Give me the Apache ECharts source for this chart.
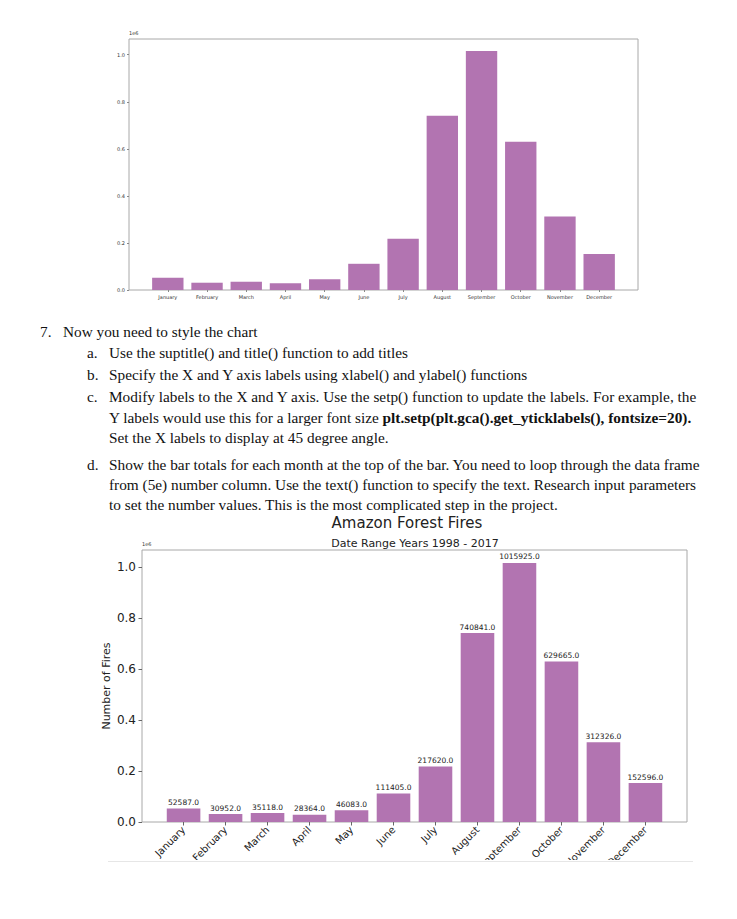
<!DOCTYPE html>
<html>
<head>
<meta charset="utf-8">
<script src="https://cdn.jsdelivr.net/npm/echarts@6/dist/echarts.min.js"></script>
<style>
  html, body { margin:0; padding:0; background:#fff; }
  #page { position:relative; width:737px; height:919px; background:#fff; overflow:hidden; }
  #chart { position:absolute; left:0; top:0; width:737px; height:860px; }
  .doc { position:absolute; font-family:'Liberation Serif','Times New Roman',serif; font-size:15.3px; color:#111; white-space:nowrap; line-height:1; }
  #rule { position:absolute; left:108px; top:861px; width:585px; height:1px; background:#e6e6e6; }
</style>
</head>
<body>
<div id="page">
  <div id="chart"></div>
  <div id="text"></div>
  <div id="rule"></div>
</div>
<script>
// ---- data ----
const months = ['January','February','March','April','May','June','July','August','September','October','November','December'];
const fires = [52587, 30952, 35118, 28364, 46083, 111405, 217620, 740841, 1015925, 629665, 312326, 152596];
const yTickStep = 200000;
const suptitle = 'Amazon Forest Fires';
const subtitle = 'Date Range Years 1998 - 2017';
const yLabel = 'Number of Fires';
const docLines = [
  {x:40,  y:324, t:'7.'},
  {x:63,  y:324, t:'Now you need to style the chart'},
  {x:87,  y:345, t:'a.'},
  {x:109, y:345, t:'Use the suptitle() and title() function to add titles'},
  {x:87,  y:367, t:'b.'},
  {x:109, y:367, t:'Specify the X and Y axis labels using xlabel() and ylabel() functions'},
  {x:87,  y:389, t:'c.'},
  {x:109, y:389, t:'Modify labels to the X and Y axis. Use the setp() function to update the labels. For example, the'},
  {x:109, y:410, t:'Y labels would use this for a larger font size ', b:'plt.setp(plt.gca().get_yticklabels(), fontsize=20).'},
  {x:109, y:430, t:'Set the X labels to display at 45 degree angle.'},
  {x:87,  y:457, t:'d.'},
  {x:109, y:457, t:'Show the bar totals for each month at the top of the bar. You need to loop through the data frame'},
  {x:109, y:477, t:'from (5e) number column. Use the text() function to specify the text. Research input parameters'},
  {x:109, y:497, t:'to set the number values. This is the most complicated step in the project.'}
];

// ---- document text ----
const tc = document.getElementById('text');
docLines.forEach(l => {
  const d = document.createElement('div');
  d.className = 'doc';
  d.style.left = l.x + 'px';
  d.style.top = l.y + 'px';
  d.textContent = l.t;
  if (l.b) { const s = document.createElement('b'); s.textContent = l.b; d.appendChild(s); }
  tc.appendChild(d);
});

// ---- chart ----
const yMax = Math.max(...fires) * 1.05;
const span = 12.98; // matplotlib x-limits (-0.99 .. 11.99)
function frames(left, top, width, height) {
  const band = width / span;
  return [
    {left:left, top:top, width:width, height:height, show:true, borderColor:'#a8a8a8', borderWidth:1,
     backgroundColor:'transparent', outerBoundsMode:'none', containLabel:false},
    {left:left + 0.49 * band, top:top, width:12 * band, height:height, outerBoundsMode:'none', containLabel:false}
  ];
}
const g = frames(129, 39, 509, 251).concat(frames(142, 550, 545, 272));
const barColor = '#b274b1';
const fmtTick = v => (v / 1e6).toFixed(1);

const chart = echarts.init(document.getElementById('chart'), null, {renderer:'svg'});
chart.setOption({
  animation:false,
  textStyle:{fontFamily:'DejaVu Sans'},
  grid:g,
  xAxis:[
    {gridIndex:0, type:'value', show:false, min:0, max:1},
    {gridIndex:1, type:'category', data:months, axisLine:{show:false},
     axisTick:{show:true, alignWithLabel:true, length:2, lineStyle:{color:'#888'}},
     axisLabel:{fontSize:5, color:'#333', margin:4, interval:0}},
    {gridIndex:2, type:'value', show:false, min:0, max:1},
    {gridIndex:3, type:'category', data:months, axisLine:{show:false},
     axisTick:{show:true, alignWithLabel:true, length:3.5, lineStyle:{color:'#666'}},
     axisLabel:{fontSize:10, color:'#222', margin:6, rotate:45, interval:0, hideOverlap:false}}
  ],
  yAxis:[
    {gridIndex:0, type:'value', min:0, max:yMax, interval:yTickStep, axisLine:{show:false},
     axisTick:{show:true, length:2, lineStyle:{color:'#888'}}, splitLine:{show:false},
     axisLabel:{fontSize:5, color:'#333', margin:4, formatter:fmtTick, showMaxLabel:false}},
    {gridIndex:1, type:'value', show:false, min:0, max:yMax},
    {gridIndex:2, type:'value', min:0, max:yMax, interval:yTickStep, axisLine:{show:false},
     axisTick:{show:true, length:3.5, lineStyle:{color:'#666'}}, splitLine:{show:false},
     axisLabel:{fontSize:12, color:'#222', margin:6, formatter:fmtTick, showMaxLabel:false},
     name:yLabel, nameLocation:'middle', nameGap:30, nameRotate:90, nameMoveOverlap:false,
     nameTextStyle:{fontSize:11, color:'#222'}},
    {gridIndex:3, type:'value', show:false, min:0, max:yMax}
  ],
  graphic:[
    {type:'text', left:129, top:30, style:{text:'1e6', fontSize:5, fill:'#333', fontFamily:'DejaVu Sans'}},
    {type:'text', left:142, top:541, style:{text:'1e6', fontSize:5, fill:'#333', fontFamily:'DejaVu Sans'}},
    {type:'text', x:407, y:523, style:{text:suptitle, fontSize:15, fill:'#222', fontFamily:'DejaVu Sans', align:'center', verticalAlign:'middle'}},
    {type:'text', x:415, y:543, style:{text:subtitle, fontSize:11, fill:'#222', fontFamily:'DejaVu Sans', align:'center', verticalAlign:'middle'}}
  ],
  series:[
    {type:'bar', xAxisIndex:1, yAxisIndex:1, data:fires, barWidth:'80%', itemStyle:{color:barColor}},
    {type:'bar', xAxisIndex:3, yAxisIndex:3, data:fires, barWidth:'80%', itemStyle:{color:barColor},
     label:{show:true, position:'top', distance:2, fontSize:7.5, color:'#222', formatter:p => p.value.toFixed(1)}}
  ]
});
</script>
</body>
</html>
